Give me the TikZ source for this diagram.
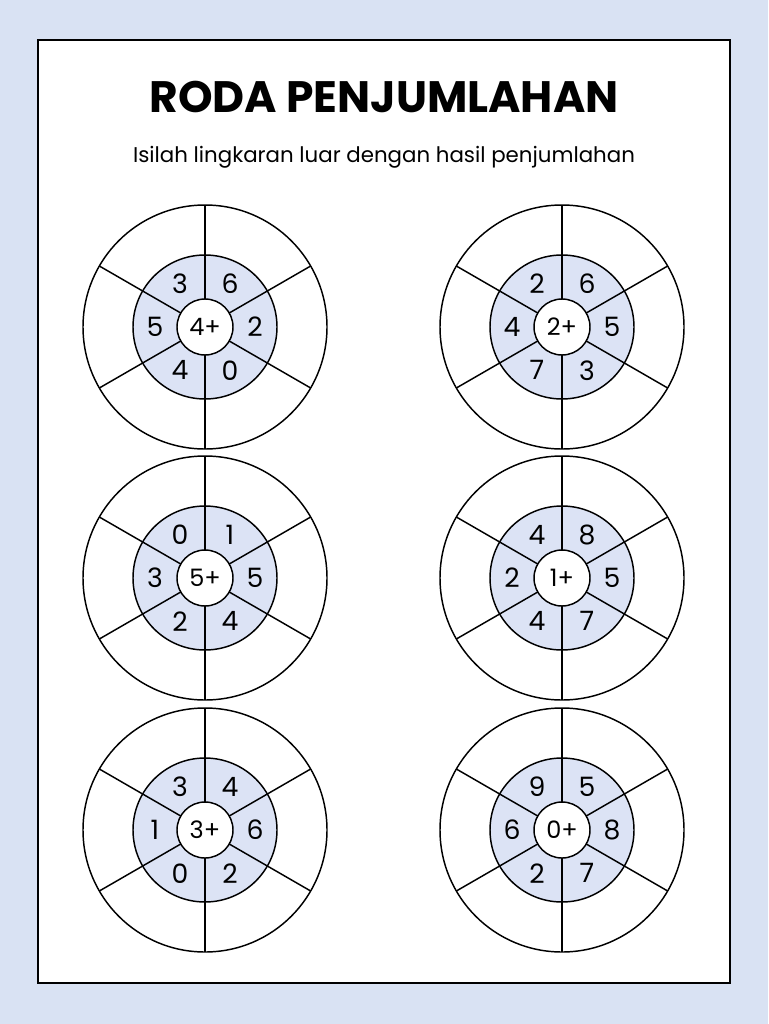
\documentclass[tikz,border=0pt]{standalone}
\usepackage{fontspec}
\setmainfont{Poppins}
\definecolor{bgblue}{HTML}{D9E2F3}
\definecolor{ringblue}{HTML}{DCE3F5}
\begin{document}
\begin{tikzpicture}[x=0.75pt,y=-0.75pt,
  wline/.style={line width=1.1pt,black},
  num/.style={font=\fontsize{20}{20}\selectfont},
  ctr/.style={font=\fontsize{18}{18}\selectfont}]
\fill[bgblue] (0,0) rectangle (768,1024);
\useasboundingbox (0,0) rectangle (768,1024);
\draw[fill=white,line width=0.8pt] (38,40) rectangle (730,983);
\node (title) at (384,97) {\fontsize{33}{33}\selectfont\bfseries RODA PENJUMLAHAN};
\node (sub) at (384,157) {\fontsize{16}{16}\selectfont Isilah lingkaran luar dengan hasil penjumlahan};
\newcommand{\wheel}[9]{%
  \begin{scope}[shift={(#1,#2)}]
    \draw[wline] (0,0) circle[radius=122];
    \draw[wline,fill=ringblue] (0,0) circle[radius=72];
    \foreach \a in {90,30,-30,-90,-150,150} \draw[wline] (\a:28) -- (\a:122);
    \draw[wline,fill=white] (0,0) circle[radius=28];
    \node[ctr] (c#1#2) at (0,0) {#3};
    \node[num] at (0:50) {#6};
    \node[num] at (-60:50) {#5};
    \node[num] at (-120:50) {#4};
    \node[num] at (180:50) {#9};
    \node[num] at (120:50) {#8};
    \node[num] at (60:50) {#7};
  \end{scope}}
\wheel{205}{327}{4+}{3}{6}{2}{0}{4}{5}
\wheel{562}{327}{2+}{2}{6}{5}{3}{7}{4}
\wheel{205}{578}{5+}{0}{1}{5}{4}{2}{3}
\wheel{562}{578}{1+}{4}{8}{5}{7}{4}{2}
\wheel{205}{830}{3+}{3}{4}{6}{2}{0}{1}
\wheel{562}{830}{0+}{9}{5}{8}{7}{2}{6}
\end{tikzpicture}
\end{document}
